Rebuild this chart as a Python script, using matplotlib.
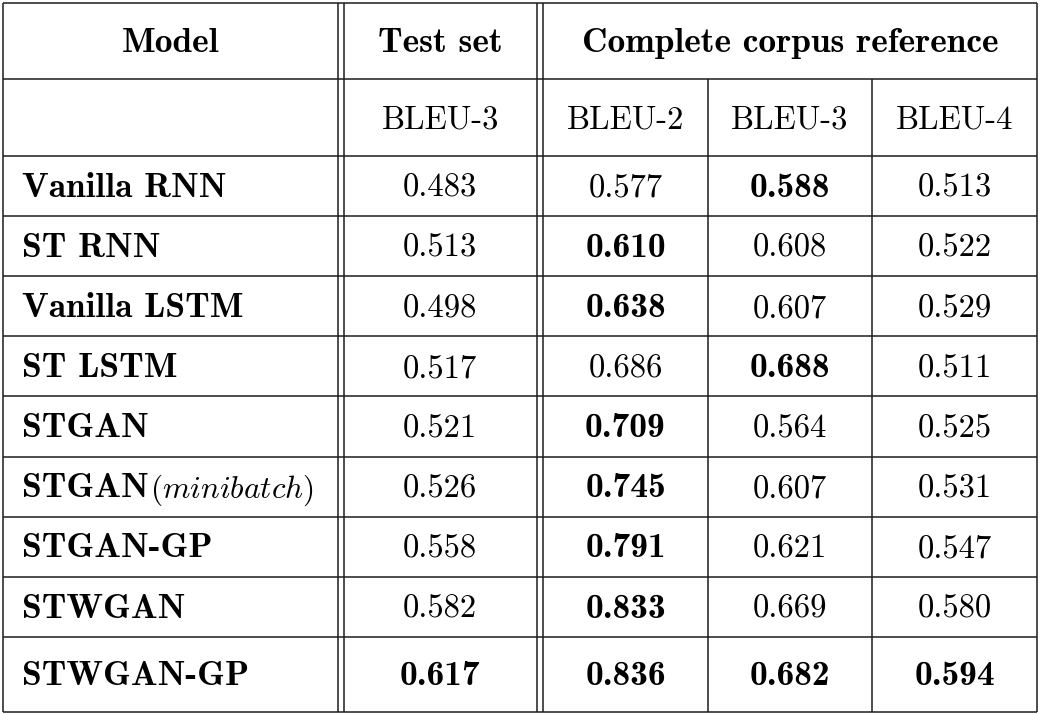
import matplotlib
matplotlib.use('Agg')
import matplotlib.pyplot as plt

plt.rcParams['mathtext.fontset'] = 'cm'

# table contents
models = ['Vanilla RNN', 'ST RNN', 'Vanilla LSTM', 'ST LSTM', 'STGAN',
          'STGAN', 'STGAN-GP', 'STWGAN', 'STWGAN-GP']
model_notes = ['', '', '', '', '', 'minibatch', '', '', '']
test_bleu3 = [0.483, 0.513, 0.498, 0.517, 0.521, 0.526, 0.558, 0.582, 0.617]
corpus_bleu2 = [0.577, 0.610, 0.638, 0.686, 0.709, 0.745, 0.791, 0.833, 0.836]
corpus_bleu3 = [0.588, 0.608, 0.607, 0.688, 0.564, 0.607, 0.621, 0.669, 0.682]
corpus_bleu4 = [0.513, 0.522, 0.529, 0.511, 0.525, 0.531, 0.547, 0.580, 0.594]
bold_test = [0, 0, 0, 0, 0, 0, 0, 0, 1]
bold_b2 = [0, 1, 1, 0, 1, 1, 1, 1, 1]
bold_b3 = [1, 0, 0, 1, 0, 0, 0, 0, 1]
bold_b4 = [0, 0, 0, 0, 0, 0, 0, 0, 1]
sub_headers = ['BLEU-3', 'BLEU-2', 'BLEU-3', 'BLEU-4']

W, H = 1040, 714
fig = plt.figure(figsize=(W / 100, H / 100), dpi=100)
ax = fig.add_axes([0, 0, 1, 1])
ax.set_xlim(0, W)
ax.set_ylim(H, 0)
ax.axis('off')

# grid layout (pixels)
x_left, x_right = 3, 1037
x_dbl1 = (337.5, 343.5)
x_dbl2 = (537, 543)
x_c3, x_c4 = 708, 872
y_top, y_h1, y_h2 = 3, 79, 156
row_h = 60.1
y_bottom = 712
n = len(models)
row_lines = [y_h2 + row_h * k for k in range(n)]

lc = '#1c1c1c'
lw = 1.1
for y in [y_top, y_h1] + row_lines + [y_bottom]:
    ax.plot([x_left, x_right], [y, y], color=lc, lw=lw, solid_capstyle='butt')
for x in [x_left, x_dbl1[0], x_dbl1[1], x_dbl2[0], x_dbl2[1], x_right]:
    ax.plot([x, x], [y_top, y_bottom], color=lc, lw=lw, solid_capstyle='butt')
for x in [x_c3, x_c4]:
    ax.plot([x, x], [y_h1, y_bottom], color=lc, lw=lw, solid_capstyle='butt')

fs = 23.5
fs_b = 25.5
em = fs * 100 / 72.0
reg = dict(family='cmr10', fontsize=fs, color='black')
bld = dict(family='cmb10', fontsize=fs_b, color='black')


def put(x, yc, s, bold=False, ha='center'):
    kw = bld if bold else reg
    return ax.text(x, yc + 0.33 * em, s, ha=ha, va='baseline', **kw)


col_centers = [(x_dbl1[1] + x_dbl2[0]) / 2, (x_dbl2[1] + x_c3) / 2,
               (x_c3 + x_c4) / 2, (x_c4 + x_right) / 2]

# headers
put((x_left + x_dbl1[0]) / 2, (y_top + y_h1) / 2, 'Model', bold=True)
put(col_centers[0], (y_top + y_h1) / 2, 'Test set', bold=True)
put((x_dbl2[1] + x_right) / 2, (y_top + y_h1) / 2, 'Complete corpus reference', bold=True)
for cx, s in zip(col_centers, sub_headers):
    put(cx, (y_h1 + y_h2) / 2, s)

renderer = fig.canvas.get_renderer()

# body
bounds = row_lines + [y_bottom]
for i in range(n):
    yc = (bounds[i] + bounds[i + 1]) / 2
    t = put(x_left + 19, yc, models[i], bold=True, ha='left')
    if model_notes[i]:
        bb = t.get_window_extent(renderer)
        x_end = ax.transData.inverted().transform((bb.x1, 0))[0]
        ax.text(x_end + 1, yc + 0.33 * em, r'$(\mathit{%s})$' % model_notes[i],
                ha='left', va='baseline', fontsize=22.5)
    cols = [(test_bleu3, bold_test), (corpus_bleu2, bold_b2),
            (corpus_bleu3, bold_b3), (corpus_bleu4, bold_b4)]
    for cx, (vals, bmask) in zip(col_centers, cols):
        put(cx, yc, '%.3f' % vals[i], bold=bool(bmask[i]))

fig.savefig('out.png', dpi=100)
